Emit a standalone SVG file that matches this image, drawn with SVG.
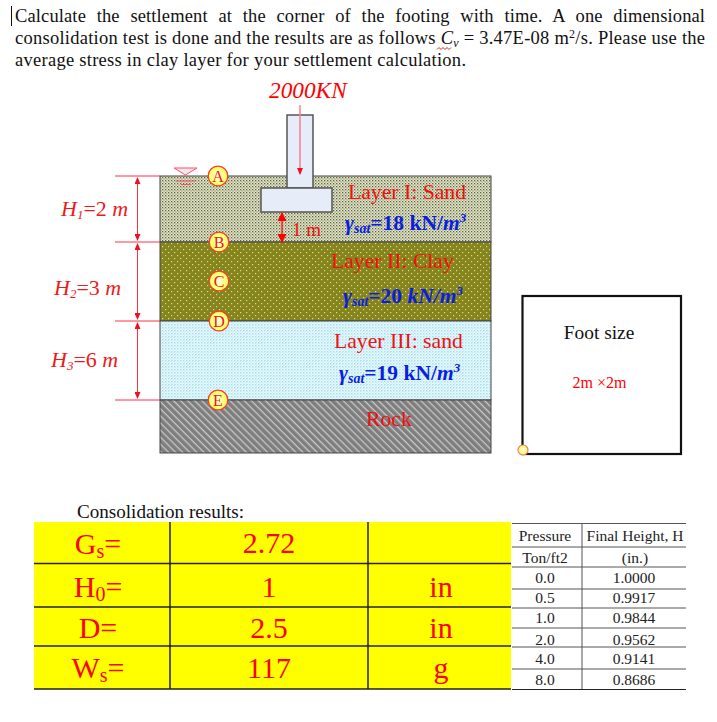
<svg xmlns="http://www.w3.org/2000/svg" width="717" height="722" viewBox="0 0 717 722">
<style>
text{font-family:"Liberation Serif","Times New Roman",serif}
.body{font-size:18.5px;fill:#111}
.red{fill:#f00}
.lbl{font-size:21.7px;fill:#f01010}
.dim{font-size:22px;fill:#f01818;font-style:italic}
.blue{font-size:21.5px;fill:#0a1ee0;font-weight:bold}
.blue .i{font-style:italic}
.pt{font-size:16px;fill:#e81818;text-anchor:middle}
.pc{fill:url(#gPt);stroke:#f04030;stroke-width:1.300}
.dl{stroke:#ff3040;stroke-width:1;fill:none}
.t1{font-size:30px;fill:#f00;text-anchor:middle}
.t2{font-size:15.500px;fill:#222;text-anchor:middle}
.g{stroke:#222;stroke-width:1.500}
.g2{stroke:#555;stroke-width:1}
.soil{stroke:#444;stroke-width:1}
.foot{fill:#e6ecf8;stroke:#555;stroke-width:1.500}
</style>
<defs>
<radialGradient id="gPt"><stop offset="0" stop-color="#fffde0"/><stop offset="1" stop-color="#ffff50"/></radialGradient>
<pattern id="pSand" width="3" height="3" patternUnits="userSpaceOnUse"><rect width="3" height="3" fill="#e6e8c8"/><rect width="1.300" height="1.300" fill="#5a6248"/><rect x="1.500" y="1.500" width="1.100" height="1.100" fill="#6c7458"/></pattern>
<pattern id="pClay" width="6" height="6" patternUnits="userSpaceOnUse"><rect width="6" height="6" fill="#85851c"/><rect width="1.200" height="1.200" fill="#d8d8a0"/><rect x="3" y="3" width="1.200" height="1.200" fill="#d8d8a0"/></pattern>
<pattern id="pSand3" width="3" height="3" patternUnits="userSpaceOnUse"><rect width="3" height="3" fill="#ecfafc"/><rect width="1.500" height="1.500" fill="#a4def0"/><rect x="1.500" y="1.500" width="1.200" height="1.200" fill="#b8e8f4"/></pattern>
<pattern id="pRock" width="5" height="5" patternUnits="userSpaceOnUse" patternTransform="rotate(45)"><rect width="5" height="5" fill="#7e7e7e"/><rect width="5" height="1.300" fill="#c8c8c8"/></pattern>
<marker id="aS" markerWidth="7" markerHeight="6" refX="6" refY="3" orient="auto-start-reverse" markerUnits="userSpaceOnUse"><path d="M0 0L7 3L0 6Z" fill="#f01020"/></marker>
<marker id="aL" markerWidth="9" markerHeight="9" refX="8" refY="4.500" orient="auto-start-reverse" markerUnits="userSpaceOnUse"><path d="M0 0L9 4.500L0 9Z" fill="#f00"/></marker>
</defs>

<g id="question">
<path d="M11.500 6V26" stroke="#111" stroke-width="1"/>
<text class="body" x="15" y="22" textLength="690" lengthAdjust="spacing" style="word-spacing:6px">Calculate the settlement at the corner of the footing with time. A one dimensional</text>
<text class="body" x="15" y="44" textLength="690" lengthAdjust="spacing">consolidation test is done and the results are as follows <tspan font-style="italic">C</tspan><tspan font-style="italic" font-size="12" dy="3">v</tspan><tspan dy="-3"> = 3.47E-08 m</tspan><tspan font-size="12" dy="-6">2</tspan><tspan dy="6">/s. Please use the</tspan></text>
<text class="body" x="15" y="66" textLength="451" lengthAdjust="spacing">average stress in clay layer for your settlement calculation.</text>
<path d="M437 49.500l2-2 2 2 2-2 2 2 2-2 2 2 2-2" fill="none" stroke="#d03020" stroke-width="1"/>
</g>

<g id="load-label"><text x="269" y="98" font-size="23.300" font-style="italic" class="red">2000KN</text></g>

<g id="layer-1-sand"><rect class="soil" x="160" y="176" width="331" height="66" fill="url(#pSand)"/>
<text class="lbl" x="348" y="199">Layer I: Sand</text>
<text class="blue" x="345" y="230"><tspan class="i">γ</tspan><tspan class="i" font-size="14" dy="3">sat</tspan><tspan dy="-3">=18 kN/</tspan><tspan class="i">m</tspan><tspan class="i" font-size="13" dy="-8">3</tspan></text></g>
<g id="layer-2-clay"><rect class="soil" x="160" y="242" width="331" height="79" fill="url(#pClay)"/>
<text class="lbl" x="331" y="268">Layer II: Clay</text>
<text class="blue" x="343" y="303"><tspan class="i">γ</tspan><tspan class="i" font-size="14" dy="3">sat</tspan><tspan dy="-3">=20 </tspan><tspan class="i">kN/m</tspan><tspan class="i" font-size="13" dy="-8">3</tspan></text></g>
<g id="layer-3-sand"><rect class="soil" x="160" y="321" width="331" height="79" fill="url(#pSand3)"/>
<text class="lbl" x="334" y="348">Layer III: sand</text>
<text class="blue" x="339" y="380"><tspan class="i">γ</tspan><tspan class="i" font-size="14" dy="3">sat</tspan><tspan dy="-3">=19 kN/</tspan><tspan class="i">m</tspan><tspan class="i" font-size="13" dy="-8">3</tspan></text></g>
<g id="rock"><rect class="soil" x="160" y="400" width="331" height="53" fill="url(#pRock)"/>
<text class="lbl" x="366" y="426">Rock</text></g>

<g id="footing">
<rect class="foot" x="287" y="115" width="26" height="73"/>
<rect class="foot" x="261" y="188" width="71" height="24"/>
</g>

<g id="water-table">
<path d="M174 168H197L185.500 175Z" fill="#f4e6f0" stroke="#ff5060" stroke-width="1"/>
<path d="M176 181H195M181 184.500H191" stroke="#ff5060" stroke-width="1"/>
</g>

<g id="connectors">
<path d="M300 105V174" stroke="#f78090" stroke-width="1.500" marker-end="url(#aS)"/>
<path class="dl" d="M115 176H160M115 242H160M115 321H160M115 400H160"/>
<path class="dl" d="M137.500 178V240" marker-start="url(#aS)" marker-end="url(#aS)"/>
<path class="dl" d="M137.500 244V319" marker-start="url(#aS)" marker-end="url(#aS)"/>
<path class="dl" d="M137.500 323V398" marker-start="url(#aS)" marker-end="url(#aS)"/>
<path d="M282 213V242" stroke="#f00" stroke-width="1.200" marker-start="url(#aL)" marker-end="url(#aL)"/>
</g>
<g id="dim-labels">
<text class="lbl" x="292" y="236" style="font-size:19px">1 m</text>
<text class="dim" x="61" y="216">H<tspan font-size="13" dy="3">1</tspan><tspan dy="-3" font-style="normal">=2 </tspan>m</text>
<text class="dim" x="54" y="295">H<tspan font-size="13" dy="3">2</tspan><tspan dy="-3" font-style="normal">=3 </tspan>m</text>
<text class="dim" x="51" y="367">H<tspan font-size="13" dy="3">3</tspan><tspan dy="-3" font-style="normal">=6 </tspan>m</text>
</g>

<g id="point-a"><circle class="pc" cx="218" cy="176" r="9.800"/><text class="pt" x="218" y="181.500">A</text></g>
<g id="point-b"><circle class="pc" cx="219" cy="242" r="9.800"/><text class="pt" x="219" y="247.500">B</text></g>
<g id="point-c"><circle class="pc" cx="219" cy="281" r="9.800"/><text class="pt" x="219" y="286.500">C</text></g>
<g id="point-d"><circle class="pc" cx="219" cy="321" r="9.800"/><text class="pt" x="219" y="326.500">D</text></g>
<g id="point-e"><circle class="pc" cx="218" cy="400" r="9.800"/><text class="pt" x="218" y="405.500">E</text></g>

<g id="foot-size">
<rect x="522.500" y="296" width="158.500" height="158" fill="#fff" stroke="#111" stroke-width="2.200"/>
<text x="599" y="339" font-size="19.400" fill="#111" text-anchor="middle">Foot size</text>
<text x="599.500" y="388" font-size="16" class="red" text-anchor="middle">2m ×2m</text>
<circle cx="523" cy="450" r="5" fill="url(#gPt)" stroke="#f08070" stroke-width="1.200"/>
</g>

<text id="consolidation-title" x="77" y="518" font-size="19.100" fill="#111">Consolidation results:</text>

<g id="results-table">
<rect x="34" y="522" width="477" height="167" fill="#ff0"/>
<path class="g" d="M34 563.500H511M34 607H511M34 646H511M34 689H511M170 522V689M368 522V689"/>
<text class="t1" x="98" y="554">G<tspan font-size="20" dy="4">s</tspan><tspan dy="-4">=</tspan></text>
<text class="t1" x="269" y="553">2.72</text>
<text class="t1" x="98" y="597">H<tspan font-size="20" dy="4">0</tspan><tspan dy="-4">=</tspan></text>
<text class="t1" x="269" y="597">1</text>
<text class="t1" x="441" y="597">in</text>
<text class="t1" x="98" y="638">D=</text>
<text class="t1" x="269" y="638">2.5</text>
<text class="t1" x="441" y="638">in</text>
<text class="t1" x="98" y="678">W<tspan font-size="20" dy="4">s</tspan><tspan dy="-4">=</tspan></text>
<text class="t1" x="269" y="678">117</text>
<text class="t1" x="441" y="678">g</text>
</g>

<g id="pressure-table">
<path class="g2" d="M512 523.500H686M512 567H686M512 589H686M512 608H686M512 628H686M512 647H686M512 669H686M582 523V689M512 547H686"/>
<path d="M512 689.500H686" stroke="#222" stroke-width="1"/>
<text class="t2" x="545" y="541">Pressure</text><text class="t2" x="635" y="541">Final Height, H</text>
<text class="t2" x="545" y="563">Ton/ft2</text><text class="t2" x="635" y="563">(in.)</text>
<text class="t2" x="545" y="583">0.0</text><text class="t2" x="634" y="583">1.0000</text>
<text class="t2" x="545" y="603">0.5</text><text class="t2" x="634" y="603">0.9917</text>
<text class="t2" x="545" y="623">1.0</text><text class="t2" x="634" y="623">0.9844</text>
<text class="t2" x="545" y="645">2.0</text><text class="t2" x="634" y="645">0.9562</text>
<text class="t2" x="545" y="664">4.0</text><text class="t2" x="634" y="664">0.9141</text>
<text class="t2" x="545" y="685">8.0</text><text class="t2" x="634" y="685">0.8686</text>
</g>
</svg>
